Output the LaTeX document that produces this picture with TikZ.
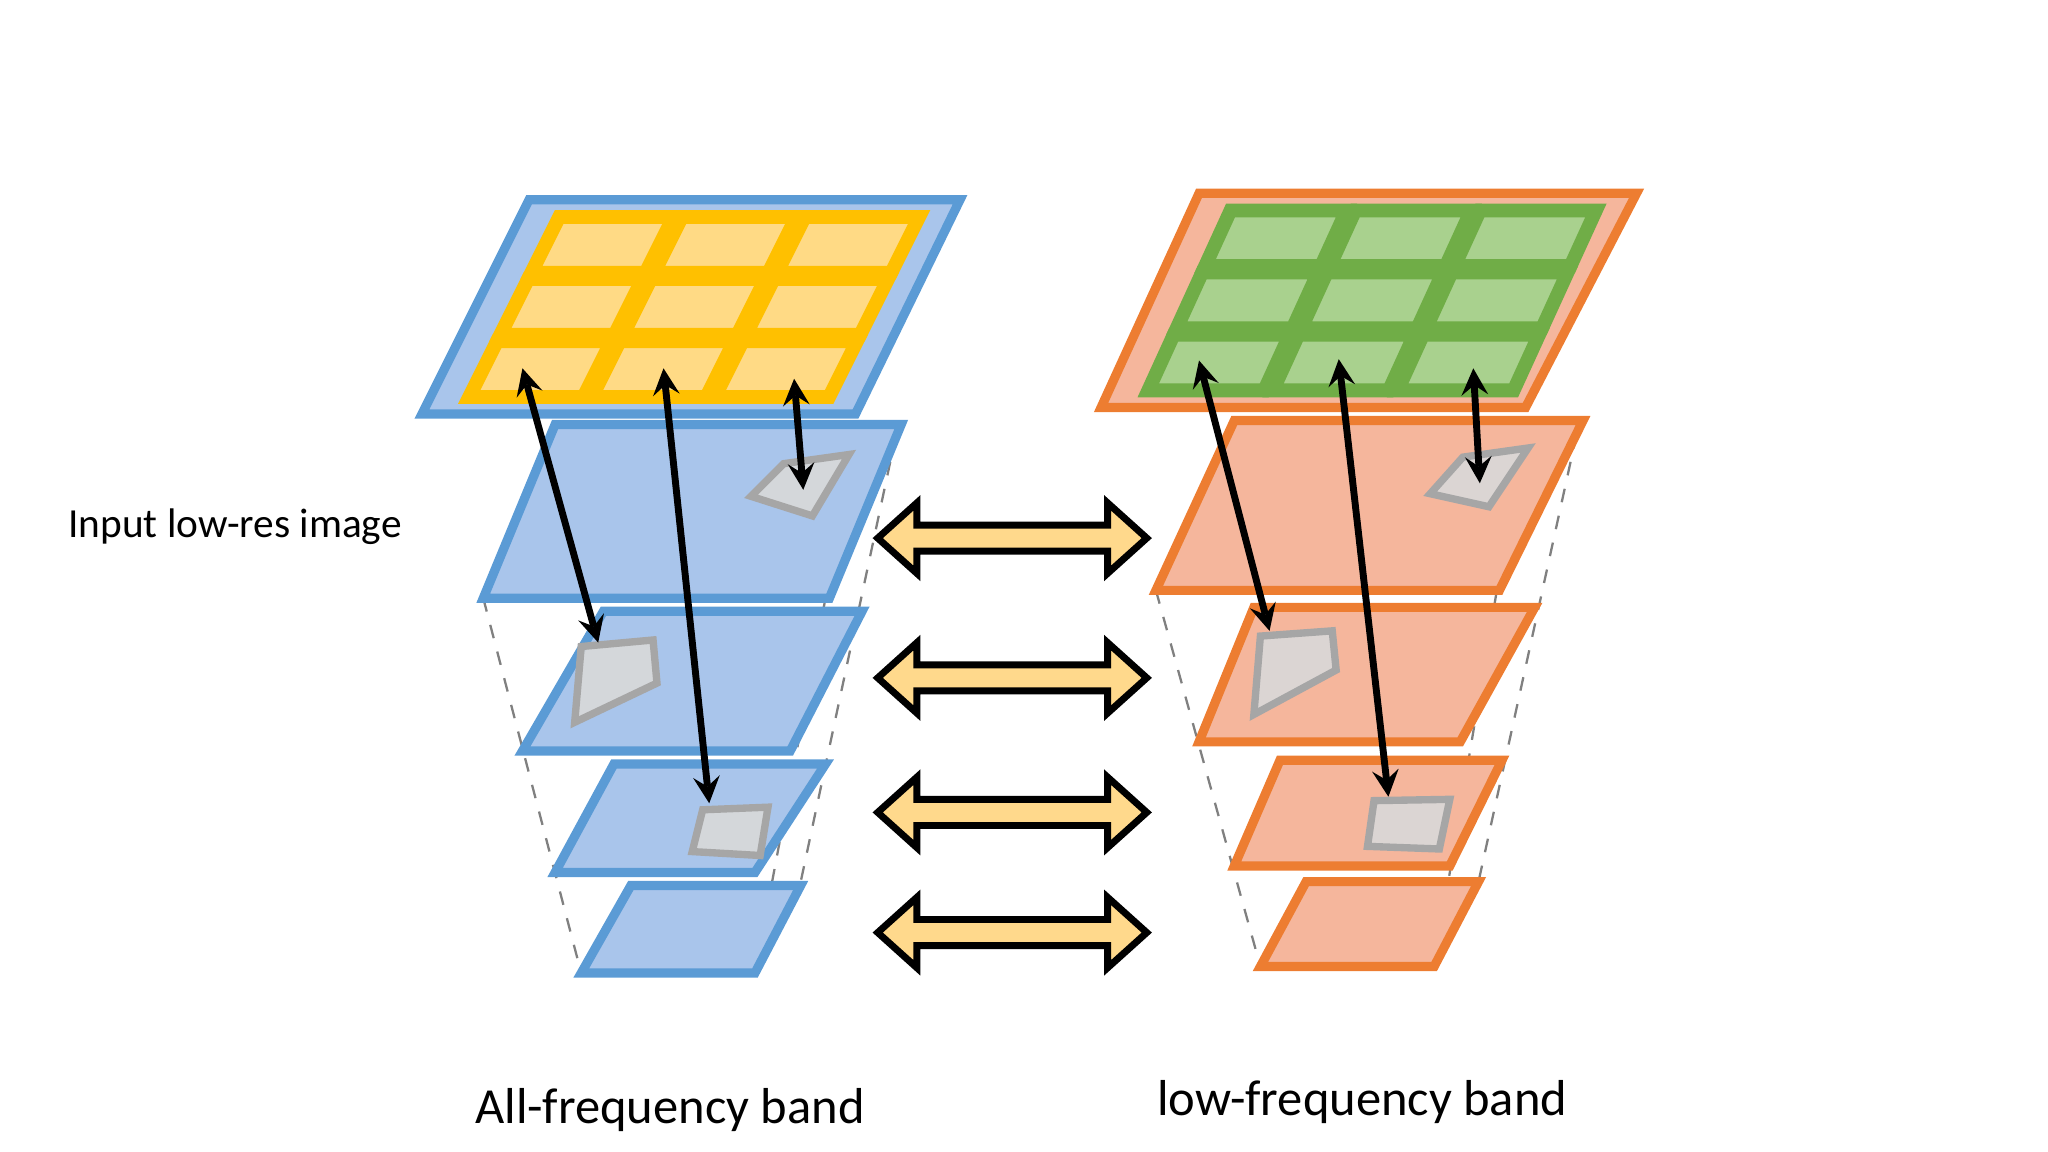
\documentclass[tikz,border=0pt]{standalone}
\usepackage{fontspec}
\setmainfont{Carlito}
\usetikzlibrary{calc}
\definecolor{bB}{HTML}{5B9BD5}\definecolor{bF}{HTML}{A9C5EB}
\definecolor{oB}{HTML}{ED7D31}\definecolor{oF}{HTML}{F5B69C}
\definecolor{yB}{HTML}{FFC000}\definecolor{yF}{HTML}{FFDA85}
\definecolor{gB}{HTML}{70AD47}\definecolor{gF}{HTML}{A9D18E}
\definecolor{aF}{HTML}{FFD98C}
\begin{document}
\begin{tikzpicture}[x=0.01cm,y=-0.01cm,
 bl/.style={draw=bB,fill=bF,line width=2pt,line join=miter},
 ol/.style={draw=oB,fill=oF,line width=2pt},
 gq/.style={draw=gray!70,fill=gray!30,line width=1.6pt,fill opacity=0.9},
 dl/.style={gray,dashed,line width=0.5pt},
 ar/.style={<->,>=stealth,line width=1.5pt,black},
 big/.style={draw=black,fill=aF,line width=1.5pt,line join=miter}]
\useasboundingbox (0,0) rectangle (1568,882);
\newcommand\pg[7]{\path[#1] (#2,#4)--(#3,#4)--(#6,#7)--(#5,#7)--cycle;}
% dashed guides
\draw[dl] (370,458)--(445,745); \draw[dl] (632,458)--(578,745); \draw[dl] (686,333)--(612,680);
\draw[dl] (885,452)--(965,740); \draw[dl] (1146,452)--(1098,740); \draw[dl] (1207,333)--(1132,675);
% left stack
\pg{bl}{483}{613}{678}{445}{578}{745}
\pg{bl}{470}{632}{585}{425}{578}{668}
\pg{bl}{462}{660}{468}{400}{605}{575}
\pg{bl}{425}{690}{325}{370}{635}{458}
\pg{bl}{405}{735}{153}{323}{655}{317}
% right stack
\pg{ol}{1000}{1132}{675}{965}{1098}{740}
\pg{ol}{980}{1150}{582}{945}{1110}{663}
\pg{ol}{960}{1175}{465}{918}{1118}{568}
\pg{ol}{945}{1212}{322}{885}{1148}{452}
\pg{ol}{918}{1253}{148}{843}{1168}{312}
% grid cells
\foreach \tlx/\trx/\ty/\blx/\by/\bc/\fc in {405/735/153/323/317/yB/yF, 918/1253/148/843/312/gB/gF}{
 \foreach \i in {0,1,2}{\foreach \j in {0,1,2}{
  \pgfmathsetmacro\ua{0.09+\i*0.285}\pgfmathsetmacro\ub{\ua+0.265}
  \pgfmathsetmacro\va{0.08+\j*0.29}\pgfmathsetmacro\vb{\va+0.26}
  \pgfmathsetmacro\w{\trx-\tlx}\pgfmathsetmacro\s{\blx-\tlx}\pgfmathsetmacro\h{\by-\ty}
  \path[draw=\bc,fill=\fc,line width=3pt]
   (\tlx+\ua*\w+\va*\s,\ty+\va*\h)--(\tlx+\ub*\w+\va*\s,\ty+\va*\h)
   --(\tlx+\ub*\w+\vb*\s,\ty+\vb*\h)--(\tlx+\ua*\w+\vb*\s,\ty+\vb*\h)--cycle;
 }}}
% gray quads
\path[gq] (575,380)--(600,355)--(650,348)--(622,395)--cycle;
\path[gq] (445,495)--(500,490)--(503,523)--(440,553)--cycle;
\path[gq] (538,620)--(588,618)--(582,655)--(530,652)--cycle;
\path[gq] (1095,378)--(1120,350)--(1170,343)--(1140,388)--cycle;
\path[gq] (965,487)--(1020,483)--(1023,513)--(960,547)--cycle;
\path[gq] (1052,613)--(1110,612)--(1102,650)--(1047,648)--cycle;
% black arrows
\coordinate (a1) at (400,282); \coordinate (b1) at (458,492);
\coordinate (a2) at (508,282); \coordinate (b2) at (543,615);
\coordinate (a3) at (608,290); \coordinate (b3) at (615,375);
\coordinate (c1) at (918,276); \coordinate (d1) at (972,483);
\coordinate (c2) at (1025,275); \coordinate (d2) at (1063,610);
\coordinate (c3) at (1128,282); \coordinate (d3) at (1133,370);
\foreach \p/\q in {a1/b1,a2/b2,a3/b3,c1/d1,c2/d2,c3/d3}{\draw[ar] (\p)--(\q);}
% big double arrows
\foreach \y in {412,519,622,714}{
 \path[big] (672,\y)--(702,\y-27)--(702,\y-10)--(848,\y-10)--(848,\y-27)--(878,\y)
  --(848,\y+27)--(848,\y+10)--(702,\y+10)--(702,\y+27)--cycle;}
% labels
\node[anchor=west,font=\fontsize{9}{10}\selectfont] (in) at (40,403) {Input low-res image};
\node[font=\fontsize{11}{12}\selectfont] (la) at (513,850) {All-frequency band};
\node[font=\fontsize{11}{12}\selectfont] (lb) at (1043,844) {low-frequency band};
\end{tikzpicture}
\end{document}
